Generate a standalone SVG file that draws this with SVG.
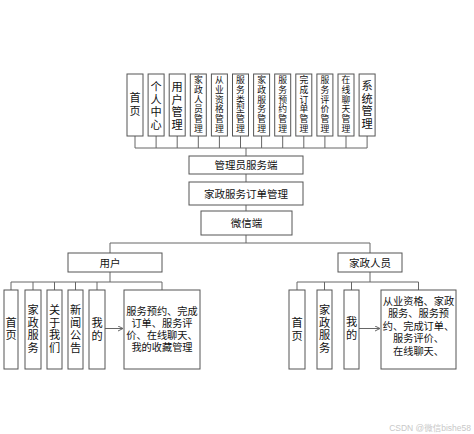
<svg xmlns="http://www.w3.org/2000/svg" width="474" height="434" viewBox="0 0 474 434">
<defs>
<style>
.b{fill:#fff;stroke:#555;stroke-width:1}
.l{fill:none;stroke:#666;stroke-width:1}
text{font-family:"Liberation Sans","Noto Sans CJK SC",sans-serif;fill:#111;text-anchor:middle;dominant-baseline:central}
.c2{font-size:11px}
.c4{font-size:11.2px}
.c6{font-size:8.8px}
.t10{font-size:10.5px}
.m{font-size:10.2px}
.wm{font-size:8.5px;fill:#c8c8c8;text-anchor:end}
</style>
<marker id="ar" markerWidth="6" markerHeight="6" refX="5" refY="3" orient="auto" markerUnits="userSpaceOnUse">
<path d="M0,0.5 L5,3 L0,5.5" fill="none" stroke="#666" stroke-width="1"/>
</marker>
</defs>
<rect width="474" height="434" fill="#fff"/>

<g id="connectors">
<path class="l" d="M135,136V148M156.1,136V148M177.2,136V148M198.3,136V148M219.4,136V148M240.5,136V148M261.6,136V148M282.7,136V148M303.8,136V148M324.9,136V148M346,136V148M367.1,136V148M135,148H367.1M246,148V156"/>
<path class="l" d="M246,174V182M246,205V211M246,235V243M110,243H370M110,243V253M370,243V253"/>
<path class="l" d="M110,272V282M11,282H162M11,282V290M33,282V290M54.5,282V290M75.5,282V290M97,282V290M162,282V290"/>
<path class="l" d="M105,328.5H123" marker-end="url(#ar)"/>
<path class="l" d="M370,272V282M297,282H418.5M297,282V290M324.5,282V290M351.5,282V290M418.5,282V290"/>
<path class="l" d="M359,328.5H380" marker-end="url(#ar)"/>
</g>

<g id="n_top">
<g id="t1"><rect class="b" x="127" y="74" width="16" height="62"/><text class="c2" x="135" y="98">首</text><text class="c2" x="135" y="111">页</text></g>
<g id="t2"><rect class="b" x="148.1" y="74" width="16" height="62"/><text class="c4" x="156.1" y="87">个</text><text class="c4" x="156.1" y="99.5">人</text><text class="c4" x="156.1" y="112">中</text><text class="c4" x="156.1" y="124.5">心</text></g>
<g id="t3"><rect class="b" x="169.2" y="74" width="16" height="62"/><text class="c4" x="177.2" y="87">用</text><text class="c4" x="177.2" y="99.5">户</text><text class="c4" x="177.2" y="112">管</text><text class="c4" x="177.2" y="124.5">理</text></g>
<g id="t4"><rect class="b" x="190.3" y="74" width="16" height="62"/><text class="c6" x="198.3" y="80">家</text><text class="c6" x="198.3" y="89.8">政</text><text class="c6" x="198.3" y="99.6">人</text><text class="c6" x="198.3" y="109.4">员</text><text class="c6" x="198.3" y="119.2">管</text><text class="c6" x="198.3" y="129">理</text></g>
<g id="t5"><rect class="b" x="211.4" y="74" width="16" height="62"/><text class="c6" x="219.4" y="80">从</text><text class="c6" x="219.4" y="89.8">业</text><text class="c6" x="219.4" y="99.6">资</text><text class="c6" x="219.4" y="109.4">格</text><text class="c6" x="219.4" y="119.2">管</text><text class="c6" x="219.4" y="129">理</text></g>
<g id="t6"><rect class="b" x="232.5" y="74" width="16" height="62"/><text class="c6" x="240.5" y="80">服</text><text class="c6" x="240.5" y="89.8">务</text><text class="c6" x="240.5" y="99.6">类</text><text class="c6" x="240.5" y="109.4">型</text><text class="c6" x="240.5" y="119.2">管</text><text class="c6" x="240.5" y="129">理</text></g>
<g id="t7"><rect class="b" x="253.6" y="74" width="16" height="62"/><text class="c6" x="261.6" y="80">家</text><text class="c6" x="261.6" y="89.8">政</text><text class="c6" x="261.6" y="99.6">服</text><text class="c6" x="261.6" y="109.4">务</text><text class="c6" x="261.6" y="119.2">管</text><text class="c6" x="261.6" y="129">理</text></g>
<g id="t8"><rect class="b" x="274.7" y="74" width="16" height="62"/><text class="c6" x="282.7" y="80">服</text><text class="c6" x="282.7" y="89.8">务</text><text class="c6" x="282.7" y="99.6">预</text><text class="c6" x="282.7" y="109.4">约</text><text class="c6" x="282.7" y="119.2">管</text><text class="c6" x="282.7" y="129">理</text></g>
<g id="t9"><rect class="b" x="295.8" y="74" width="16" height="62"/><text class="c6" x="303.8" y="80">完</text><text class="c6" x="303.8" y="89.8">成</text><text class="c6" x="303.8" y="99.6">订</text><text class="c6" x="303.8" y="109.4">单</text><text class="c6" x="303.8" y="119.2">管</text><text class="c6" x="303.8" y="129">理</text></g>
<g id="t10"><rect class="b" x="316.9" y="74" width="16" height="62"/><text class="c6" x="324.9" y="80">服</text><text class="c6" x="324.9" y="89.8">务</text><text class="c6" x="324.9" y="99.6">评</text><text class="c6" x="324.9" y="109.4">价</text><text class="c6" x="324.9" y="119.2">管</text><text class="c6" x="324.9" y="129">理</text></g>
<g id="t11"><rect class="b" x="338" y="74" width="16" height="62"/><text class="c6" x="346" y="80">在</text><text class="c6" x="346" y="89.8">线</text><text class="c6" x="346" y="99.6">聊</text><text class="c6" x="346" y="109.4">天</text><text class="c6" x="346" y="119.2">管</text><text class="c6" x="346" y="129">理</text></g>
<g id="t12"><rect class="b" x="359.1" y="74" width="16" height="62"/><text class="c4" x="367.1" y="86">系</text><text class="c4" x="367.1" y="98.5">统</text><text class="c4" x="367.1" y="111">管</text><text class="c4" x="367.1" y="123.5">理</text></g>
</g>

<g id="admin"><rect class="b" x="189" y="156" width="114" height="18"/><text class="t10" x="246" y="165">管理员服务端</text></g>
<g id="order"><rect class="b" x="189" y="182" width="114" height="23"/><text class="t10" x="246" y="193.5">家政服务订单管理</text></g>
<g id="wechat"><rect class="b" x="201" y="211" width="91" height="24"/><text class="t10" x="246.5" y="223">微信端</text></g>

<g id="user"><rect class="b" x="68" y="253" width="94" height="19"/><text class="t10" x="110" y="262.5">用户</text></g>
<g id="staff"><rect class="b" x="338" y="253" width="64" height="19"/><text class="t10" x="370" y="262.5">家政人员</text></g>

<g id="u1"><rect class="b" x="4" y="290" width="14" height="79"/><text class="c4" x="11" y="322.5">首</text><text class="c4" x="11" y="335">页</text></g>
<g id="u2"><rect class="b" x="25" y="290" width="16" height="79"/><text class="c4" x="33" y="310">家</text><text class="c4" x="33" y="322.5">政</text><text class="c4" x="33" y="335">服</text><text class="c4" x="33" y="347.5">务</text></g>
<g id="u3"><rect class="b" x="47" y="290" width="15" height="79"/><text class="c4" x="54.5" y="310">关</text><text class="c4" x="54.5" y="322.5">于</text><text class="c4" x="54.5" y="335">我</text><text class="c4" x="54.5" y="347.5">们</text></g>
<g id="u4"><rect class="b" x="68" y="290" width="15" height="79"/><text class="c4" x="75.5" y="310">新</text><text class="c4" x="75.5" y="322.5">闻</text><text class="c4" x="75.5" y="335">公</text><text class="c4" x="75.5" y="347.5">告</text></g>
<g id="u5"><rect class="b" x="89" y="290" width="16" height="79"/><text class="c4" x="97" y="323">我</text><text class="c4" x="97" y="335.5">的</text></g>
<g id="u6"><rect class="b" x="124" y="290" width="76" height="79"/><text class="m" x="162" y="311">服务预约、完成</text><text class="m" x="162" y="323">订单、服务评</text><text class="m" x="162" y="335">价、在线聊天、</text><text class="m" x="162" y="347">我的收藏管理</text></g>

<g id="s1"><rect class="b" x="289" y="290" width="16" height="79"/><text class="c4" x="297" y="323">首</text><text class="c4" x="297" y="335.5">页</text></g>
<g id="s2"><rect class="b" x="317" y="290" width="15" height="79"/><text class="c4" x="324.5" y="310">家</text><text class="c4" x="324.5" y="322.5">政</text><text class="c4" x="324.5" y="335">服</text><text class="c4" x="324.5" y="347.5">务</text></g>
<g id="s3"><rect class="b" x="344" y="290" width="15" height="79"/><text class="c4" x="351.5" y="322">我</text><text class="c4" x="351.5" y="334.5">的</text></g>
<g id="s4"><rect class="b" x="381" y="290" width="75" height="79"/><text class="m" x="418.5" y="301">从业资格、家政</text><text class="m" x="418.5" y="313.5">服务、服务预</text><text class="m" x="418.5" y="326">约、完成订单、</text><text class="m" x="418.5" y="338.5">服务评价、</text><text class="m" x="418.5" y="351">在线聊天、</text></g>

<text class="wm" x="471" y="428">CSDN @微信bishe58</text>
</svg>
